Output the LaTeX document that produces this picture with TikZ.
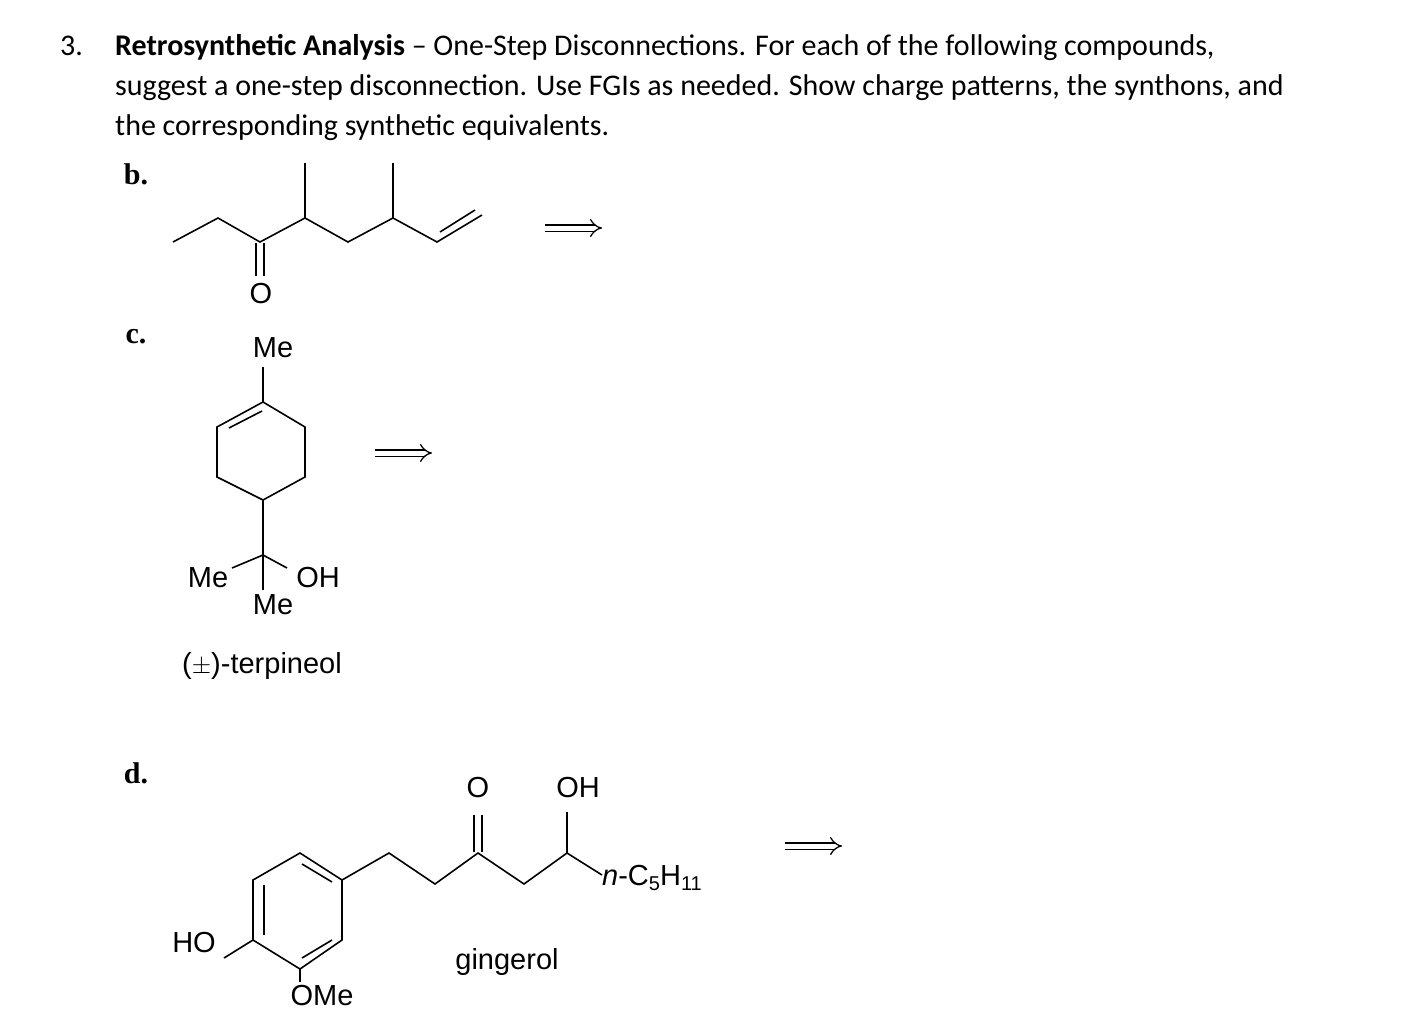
\documentclass[tikz,border=0pt]{standalone}
\usepackage{fontspec}
\setmainfont{Carlito}
\newfontfamily\chemf{Liberation Sans}
\newfontfamily\labf{Liberation Serif}
\usetikzlibrary{arrows.meta}
\tikzset{bond/.style={line width=1.6pt},
 lab/.style={font=\chemf\fontsize{29}{32}\selectfont, inner sep=0pt},
 ttl/.style={font=\fontsize{30}{34}\selectfont, anchor=base west, inner sep=0pt},
 part/.style={font=\labf\bfseries\fontsize{30}{34}\selectfont, inner sep=0pt},
 retro/.style={line width=1.3pt, double, double distance=5pt, -{Implies}}}
\begin{document}
\begin{tikzpicture}[x=1pt,y=-1pt]
\useasboundingbox (0,0) rectangle (1408,1026);
% title
\node[ttl] (n3) at (60,55) {3.};
\node[ttl] (t1) at (115,55) {\textbf{Retrosynthetic Analysis} -- One-Step Disconnections. For each of the following compounds,};
\node[ttl] (t2) at (115,95) {suggest a one-step disconnection. Use FGIs as needed. Show charge patterns, the synthons, and};
\node[ttl] (t3) at (115,135) {the corresponding synthetic equivalents.};
\node[part] (pb) at (136,174) {b.};
\node[part] (pc) at (136,337) {c.};
\node[part] (pd) at (136,773) {d.};
% b
\coordinate (b1) at (173,242); \coordinate (b2) at (218,218); \coordinate (b3) at (260,242);
\coordinate (b4) at (305,218); \coordinate (b5) at (348,242); \coordinate (b6) at (393,218);
\coordinate (b7) at (437,242); \coordinate (b8) at (482,215);
\coordinate (bm1) at (305,163); \coordinate (bm2) at (393,163);
\draw[bond] (b1)--(b2)--(b3)--(b4)--(b5)--(b6)--(b7)--(b8);
\draw[bond] (b4)--(bm1); \draw[bond] (b6)--(bm2);
\draw[bond] (440,232)--(475,210);
\draw[bond] (256,243)--(256,276); \draw[bond] (264,243)--(264,276);
\node[lab] (bO) at (261,294) {O};
\coordinate (ba1) at (545,228); \coordinate (ba2) at (602,228);
\draw[retro] (ba1)--(ba2);
% c
\node[lab] (cMe) at (273,348) {Me};
\coordinate (r1) at (263,402); \coordinate (r2) at (217,427); \coordinate (r3) at (217,477);
\coordinate (r4) at (263,500); \coordinate (r5) at (305,477); \coordinate (r6) at (305,427);
\draw[bond] (r1)--(r2)--(r3)--(r4)--(r5)--(r6)--cycle;
\draw[bond] (229,428)--(262,411);
\draw[bond] (263,367)--(r1);
\coordinate (cq) at (263,555);
\draw[bond] (r4)--(cq)--(263,590);
\draw[bond] (cq)--(232,568); \draw[bond] (cq)--(287,568);
\node[lab] (cMe2) at (208,578) {Me};
\node[lab] (cOH) at (318,578) {OH};
\node[lab] (cMe3) at (273,605) {Me};
\node[lab] (terp) at (262,666) {($\pm$)-terpineol};
\coordinate (ca1) at (375,453); \coordinate (ca2) at (432,453);
\draw[retro] (ca1)--(ca2);
% d
\coordinate (a1) at (300,853); \coordinate (a2) at (253,880); \coordinate (a3) at (253,940);
\coordinate (a4) at (300,969); \coordinate (a5) at (342,940); \coordinate (a6) at (342,880);
\draw[bond] (a1)--(a2)--(a3)--(a4)--(a5)--(a6)--cycle;
\draw[bond] (264,885)--(264,935);
\draw[bond] (302,864)--(332,882);
\draw[bond] (302,958)--(332,940);
\coordinate (d1) at (389,853); \coordinate (d2) at (435,884); \coordinate (d3) at (478,853);
\coordinate (d4) at (524,884); \coordinate (d5) at (567,853); \coordinate (d6) at (602,875);
\draw[bond] (a6)--(d1)--(d2)--(d3)--(d4)--(d5)--(d6);
\draw[bond] (474,852)--(474,815); \draw[bond] (482,852)--(482,815);
\draw[bond] (d5)--(567,812);
\node[lab] (dO) at (478,788) {O};
\node[lab] (dOH) at (578,788) {OH};
\node[lab, anchor=west] (dC5) at (602,878) {\textit{n}-C\raisebox{-5pt}{\fontsize{20}{22}\selectfont 5}H\raisebox{-5pt}{\fontsize{20}{22}\selectfont 11}};
\draw[bond] (a3)--(224,958);
\node[lab] (dHO) at (194,943) {HO};
\draw[bond] (a4)--(300,982);
\node[lab] (dOMe) at (322,996) {OMe};
\node[lab] (ging) at (507,962) {gingerol};
\coordinate (da1) at (785,846); \coordinate (da2) at (842,846);
\draw[retro] (da1)--(da2);
\end{tikzpicture}
\end{document}
